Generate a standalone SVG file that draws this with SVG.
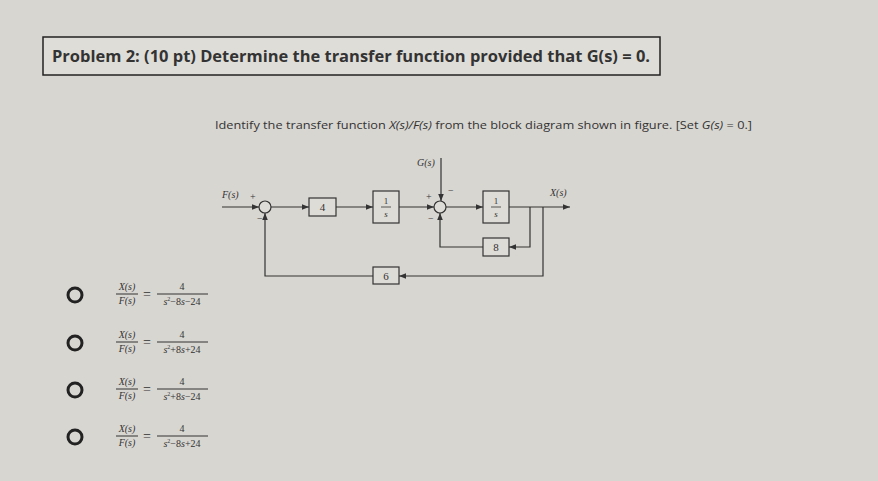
<svg xmlns="http://www.w3.org/2000/svg" width="878" height="481" viewBox="0 0 878 481">
<defs>
<marker id="ar" viewBox="0 0 10 10" refX="10" refY="5" markerWidth="6" markerHeight="6" orient="auto"><path d="M0,1 L10,5 L0,9 z" fill="#333"/></marker>
<style>
.ln{stroke:#333;stroke-width:1.2;fill:none}
.bx{fill:#dedcd6;stroke:#333;stroke-width:1.2}
.t{font-family:"Liberation Serif",serif;fill:#333}
.s{font-family:"Open Sans","Liberation Sans",sans-serif;fill:#333}
.opt{fill:none;stroke:#222;stroke-width:3}
</style>
</defs>
<rect width="878" height="481" fill="#d8d6d1"/>
<rect x="43" y="37" width="617" height="38" fill="#dfddd8" stroke="#222" stroke-width="1.5"/>
<text x="52" y="62" class="s" font-size="15.5" font-weight="bold" fill="#222" textLength="598" lengthAdjust="spacingAndGlyphs">Problem 2: (10 pt) Determine the transfer function provided that G(s) = 0.</text>
<text x="215" y="129" class="s" font-size="10" textLength="537" lengthAdjust="spacingAndGlyphs">Identify the transfer function <tspan font-style="italic">X(s)/F(s)</tspan> from the block diagram shown in figure. [Set <tspan font-style="italic">G(s)</tspan> = 0.]</text>
<g id="connectors">
<path class="ln" d="M222,207 H259" marker-end="url(#ar)"/>
<path class="ln" d="M271,207 H309" marker-end="url(#ar)"/>
<path class="ln" d="M336,207 H373" marker-end="url(#ar)"/>
<path class="ln" d="M399,207 H434" marker-end="url(#ar)"/>
<path class="ln" d="M446,207 H483" marker-end="url(#ar)"/>
<path class="ln" d="M509,207 H570" marker-end="url(#ar)"/>
<path class="ln" d="M441,158 V201" marker-end="url(#ar)"/>
<path class="ln" d="M530,207 V247 H509" marker-end="url(#ar)"/>
<path class="ln" d="M483,247 H440 V213" marker-end="url(#ar)"/>
<path class="ln" d="M543,207 V276 H399" marker-end="url(#ar)"/>
<path class="ln" d="M373,276 H265 V213" marker-end="url(#ar)"/>
</g>
<g id="sum1"><circle cx="265" cy="207" r="6" class="bx"/><text x="250" y="200" class="t" font-size="10">+</text><text x="257" y="222" class="t" font-size="10">−</text></g>
<g id="sum2"><circle cx="440" cy="207" r="6" class="bx"/><text x="426" y="200" class="t" font-size="10">+</text><text x="428" y="222" class="t" font-size="10">−</text><text x="448" y="194" class="t" font-size="10">−</text></g>
<g id="labels"><text x="222" y="198" class="t" font-size="10" font-style="italic">F(s)</text><text x="417" y="166" class="t" font-size="10" font-style="italic">G(s)</text><text x="550" y="196" class="t" font-size="10" font-style="italic">X(s)</text></g>
<g id="b4"><rect x="309" y="198" width="27" height="18" class="bx"/><text x="322.5" y="211" text-anchor="middle" class="t" font-size="11">4</text></g>
<g id="int1"><rect x="373" y="191" width="26" height="32" class="bx"/><text x="386" y="204" text-anchor="middle" class="t" font-size="9">1</text><line x1="381" y1="207" x2="391" y2="207" stroke="#333" stroke-width="0.8"/><text x="386" y="217" text-anchor="middle" class="t" font-size="9" font-style="italic">s</text></g>
<g id="int2"><rect x="483" y="191" width="26" height="32" class="bx"/><text x="496" y="204" text-anchor="middle" class="t" font-size="9">1</text><line x1="491" y1="207" x2="501" y2="207" stroke="#333" stroke-width="0.8"/><text x="496" y="217" text-anchor="middle" class="t" font-size="9" font-style="italic">s</text></g>
<g id="b8"><rect x="483" y="238" width="26" height="18" class="bx"/><text x="496" y="251" text-anchor="middle" class="t" font-size="11">8</text></g>
<g id="b6"><rect x="373" y="267" width="26" height="17" class="bx"/><text x="386" y="280" text-anchor="middle" class="t" font-size="11">6</text></g>
<g id="options" class="t" font-size="10">
<g transform="translate(0,295)"><circle cx="75" cy="0" r="7" class="opt"/><text x="127" y="-5" text-anchor="middle" font-style="italic">X(s)</text><line x1="116" y1="-1" x2="138" y2="-1" stroke="#333"/><text x="127" y="9" text-anchor="middle" font-style="italic">F(s)</text><text x="143" y="4" font-size="14">=</text><text x="182" y="-5" text-anchor="middle">4</text><line x1="157" y1="-1" x2="208" y2="-1" stroke="#333"/><text x="182" y="10" text-anchor="middle"><tspan font-style="italic">s</tspan><tspan font-size="6" dy="-4">2</tspan><tspan dy="4">−8<tspan font-style="italic">s</tspan>−24</tspan></text></g>
<g transform="translate(0,343)"><circle cx="75" cy="0" r="7" class="opt"/><text x="127" y="-5" text-anchor="middle" font-style="italic">X(s)</text><line x1="116" y1="-1" x2="138" y2="-1" stroke="#333"/><text x="127" y="9" text-anchor="middle" font-style="italic">F(s)</text><text x="143" y="4" font-size="14">=</text><text x="182" y="-5" text-anchor="middle">4</text><line x1="157" y1="-1" x2="208" y2="-1" stroke="#333"/><text x="182" y="10" text-anchor="middle"><tspan font-style="italic">s</tspan><tspan font-size="6" dy="-4">2</tspan><tspan dy="4">+8<tspan font-style="italic">s</tspan>+24</tspan></text></g>
<g transform="translate(0,390)"><circle cx="75" cy="0" r="7" class="opt"/><text x="127" y="-5" text-anchor="middle" font-style="italic">X(s)</text><line x1="116" y1="-1" x2="138" y2="-1" stroke="#333"/><text x="127" y="9" text-anchor="middle" font-style="italic">F(s)</text><text x="143" y="4" font-size="14">=</text><text x="182" y="-5" text-anchor="middle">4</text><line x1="157" y1="-1" x2="208" y2="-1" stroke="#333"/><text x="182" y="10" text-anchor="middle"><tspan font-style="italic">s</tspan><tspan font-size="6" dy="-4">2</tspan><tspan dy="4">+8<tspan font-style="italic">s</tspan>−24</tspan></text></g>
<g transform="translate(0,437)"><circle cx="75" cy="0" r="7" class="opt"/><text x="127" y="-5" text-anchor="middle" font-style="italic">X(s)</text><line x1="116" y1="-1" x2="138" y2="-1" stroke="#333"/><text x="127" y="9" text-anchor="middle" font-style="italic">F(s)</text><text x="143" y="4" font-size="14">=</text><text x="182" y="-5" text-anchor="middle">4</text><line x1="157" y1="-1" x2="208" y2="-1" stroke="#333"/><text x="182" y="10" text-anchor="middle"><tspan font-style="italic">s</tspan><tspan font-size="6" dy="-4">2</tspan><tspan dy="4">−8<tspan font-style="italic">s</tspan>+24</tspan></text></g>
</g>
</svg>
